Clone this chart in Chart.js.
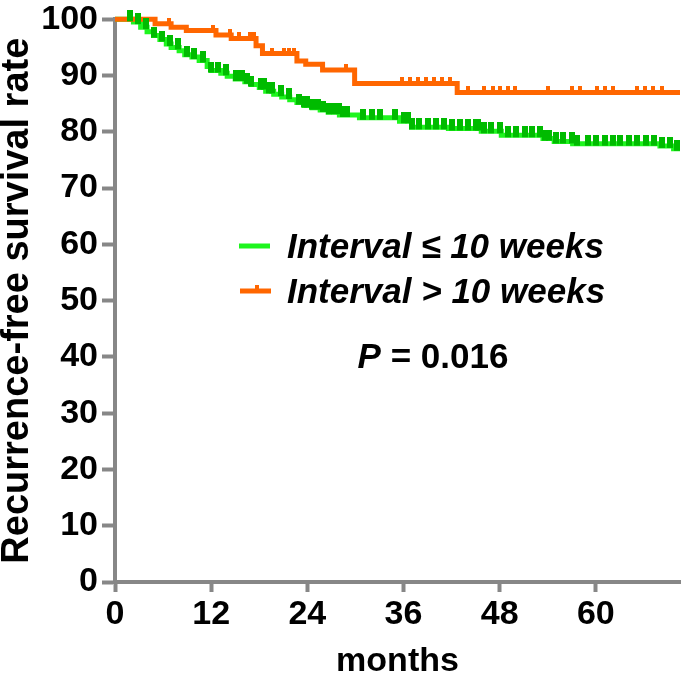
<!DOCTYPE html>
<html>
<head>
<meta charset="utf-8">
<script src="https://cdn.jsdelivr.net/npm/chart.js@4.4.1/dist/chart.umd.min.js"></script>
<style>
html,body{margin:0;padding:0;background:#ffffff;}
#wrap{width:685px;height:679px;position:relative;}
</style>
</head>
<body>
<div id="wrap"><canvas id="c" width="685" height="679"></canvas></div>
<script>
// ---- data ----
const xTicks = [0, 12, 24, 36, 48, 60];
const yTicks = [0, 10, 20, 30, 40, 50, 60, 70, 80, 90, 100];
const xMax = 70.5;
const seriesNames = ['Interval \u2264 10 weeks', 'Interval > 10 weeks'];
const pValue = '0.016';

const greenTimes = [0, 2.3, 3.2, 4.0, 4.8, 5.6, 6.4, 7.0, 8.0, 8.7, 9.6, 10.5, 11.5, 12.0, 13.2, 14.0, 15.0, 16.2, 17.0, 18.0, 18.8, 19.8, 20.8, 21.8, 22.7, 23.6, 24.6, 25.6, 26.6, 28.0, 30.5, 35.5, 37.0, 41.6, 45.7, 48.2, 53.4, 54.8, 57.1, 68.0, 69.7];
const greenSurv  = [100, 99.5, 98.6, 97.8, 97.1, 96.4, 95.6, 95.0, 94.4, 93.7, 93.3, 92.7, 91.6, 90.9, 90.4, 89.9, 89.4, 88.9, 88.4, 87.9, 87.2, 86.7, 86.2, 85.7, 85.2, 84.7, 84.3, 83.9, 83.5, 83.0, 82.5, 81.9, 80.8, 80.6, 80.1, 79.4, 78.8, 78.3, 77.9, 77.5, 77.0];
const greenCensor = [1.9, 2.9, 3.9, 4.9, 5.9, 6.9, 7.9, 9.0, 9.9, 11.0, 12.0, 12.9, 13.8, 15.1, 15.5, 15.9, 16.5, 17.0, 18.2, 18.6, 19.2, 19.6, 20.7, 21.7, 22.9, 23.6, 24.0, 24.6, 25.3, 25.9, 26.7, 27.3, 27.9, 28.5, 29.0, 31.0, 32.1, 33.1, 35.0, 36.0, 36.6, 37.0, 37.9, 39.0, 40.0, 41.0, 42.1, 43.0, 44.0, 45.0, 45.3, 46.0, 46.9, 48.0, 49.0, 50.0, 51.1, 52.0, 53.0, 53.6, 54.1, 55.0, 55.9, 57.0, 57.7, 59.0, 60.0, 61.1, 62.1, 63.0, 64.1, 65.1, 66.2, 67.2, 68.2, 69.2, 70.1];

const orangeTimes = [0, 5.0, 7.0, 8.9, 12.6, 14.5, 17.6, 18.4, 22.7, 23.8, 25.9, 29.9, 42.7];
const orangeSurv  = [100, 99.2, 98.6, 98.0, 97.2, 96.6, 95.3, 93.9, 92.6, 92.0, 91.0, 88.6, 87.0];
const orangeCensor = [6.8, 12.2, 14.4, 15.5, 16.8, 17.4, 19.6, 21.1, 21.7, 22.3, 28.8, 35.8, 36.8, 37.8, 38.8, 39.8, 40.8, 41.8, 44.0, 46.0, 47.2, 48.1, 49.0, 49.9, 54.0, 57.0, 58.0, 60.1, 61.1, 62.1, 65.1, 66.1, 67.1, 68.2];

// ---- styles ----
const greenLine = '#1EF51E';
const greenMark = '#00BB00';
const orange = '#FF6600';
const axisGray = '#878787';
const FONT = '"Liberation Sans", Arial, Helvetica, sans-serif';

function stepPoints(times, surv) {
  const pts = times.map((t, i) => ({x: t, y: surv[i]}));
  pts.push({x: xMax, y: surv[surv.length - 1]});
  return pts;
}
function survAt(times, surv, t) {
  let v = surv[0];
  for (let i = 0; i < times.length; i++) { if (times[i] <= t) v = surv[i]; }
  return v;
}
function censorPoints(cens, times, surv) {
  return cens.map(t => ({x: t, y: survAt(times, surv, t)}));
}
function makeMark(w, above, below, color) {
  const h = 2 * Math.max(above, below);
  const c = document.createElement('canvas');
  c.width = w; c.height = h;
  const g = c.getContext('2d');
  g.fillStyle = color;
  g.fillRect(0, h / 2 - above, w, above + below);
  return c;
}
const greenTick = makeMark(6, 9, 2, greenMark);
const orangeTick = makeMark(4, 6, 0, orange);

const legendPlugin = {
  id: 'kmLegend',
  afterDraw(chart) {
    const ctx = chart.ctx;
    ctx.save();
    ctx.lineCap = 'butt';
    ctx.lineWidth = 5;
    ctx.strokeStyle = greenLine;
    ctx.beginPath(); ctx.moveTo(239, 246); ctx.lineTo(270, 246); ctx.stroke();
    ctx.strokeStyle = orange;
    ctx.beginPath(); ctx.moveTo(240, 291); ctx.lineTo(271, 291); ctx.stroke();
    ctx.fillStyle = orange;
    ctx.fillRect(255, 285, 4, 6);
    ctx.fillStyle = '#000';
    ctx.textAlign = 'left';
    ctx.textBaseline = 'alphabetic';
    ctx.font = 'italic bold 35px ' + FONT;
    ctx.fillText(seriesNames[0], 287, 258);
    ctx.fillText(seriesNames[1], 287, 303);
    const fP = 'italic bold 35px ' + FONT;
    const fR = 'bold 35px ' + FONT;
    ctx.font = fP; const wP = ctx.measureText('P').width;
    const rest = ' = ' + pValue;
    ctx.font = fR; const wR = ctx.measureText(rest).width;
    const x0 = 433 - (wP + wR) / 2;
    ctx.font = fP; ctx.fillText('P', x0, 368);
    ctx.font = fR; ctx.fillText(rest, x0 + wP, 368);
    ctx.restore();
  }
};

new Chart(document.getElementById('c'), {
  type: 'line',
  data: {
    datasets: [
      {label: 'g-censor', data: censorPoints(greenCensor, greenTimes, greenSurv), showLine: false, pointStyle: greenTick, pointRadius: 3, clip: false},
      {label: 'o-censor', data: censorPoints(orangeCensor, orangeTimes, orangeSurv), showLine: false, pointStyle: orangeTick, pointRadius: 3, clip: false},
      {label: seriesNames[1], data: stepPoints(orangeTimes, orangeSurv), stepped: true, borderColor: orange, borderWidth: 5, pointRadius: 0, fill: false, clip: false},
      {label: seriesNames[0], data: stepPoints(greenTimes, greenSurv), stepped: true, borderColor: greenLine, borderWidth: 5, pointRadius: 0, fill: false, clip: false}
    ]
  },
  options: {
    responsive: false,
    animation: false,
    events: [],
    layout: {padding: {top: 16, right: 2, left: 0, bottom: 0}},
    plugins: {legend: {display: false}, tooltip: {enabled: false}},
    scales: {
      x: {
        type: 'linear', min: 0, max: xMax,
        afterBuildTicks: s => { s.ticks = xTicks.map(v => ({value: v})); },
        afterFit: s => { s.height = 97; },
        grid: {display: true, drawOnChartArea: false, drawTicks: true, tickLength: 10, tickColor: axisGray, tickWidth: 4},
        border: {display: true, color: axisGray, width: 4},
        ticks: {color: '#000', font: {family: FONT, size: 34, weight: 'bold', lineHeight: 0.9}, padding: 7, maxRotation: 0, autoSkip: false},
        title: {display: true, text: 'months', color: '#000', font: {family: FONT, size: 34, weight: 'bold', lineHeight: 1}, padding: {top: 0, bottom: 0}}
      },
      y: {
        type: 'linear', min: 0, max: 100,
        afterBuildTicks: s => { s.ticks = yTicks.map(v => ({value: v})); },
        afterFit: s => { s.width = 115; },
        grid: {display: true, drawOnChartArea: false, drawTicks: true, tickLength: 13, tickColor: axisGray, tickWidth: 4},
        border: {display: true, color: axisGray, width: 4},
        ticks: {color: '#000', font: {family: FONT, size: 34, weight: 'bold', lineHeight: 0.9}, padding: 4, autoSkip: false},
        title: {display: true, text: 'Recurrence-free survival rate', color: '#000', font: {family: FONT, size: 38, weight: 'bold', lineHeight: 0.9}, padding: {top: 0, bottom: 0}}
      }
    }
  },
  plugins: [legendPlugin]
});
</script>
</body>
</html>
